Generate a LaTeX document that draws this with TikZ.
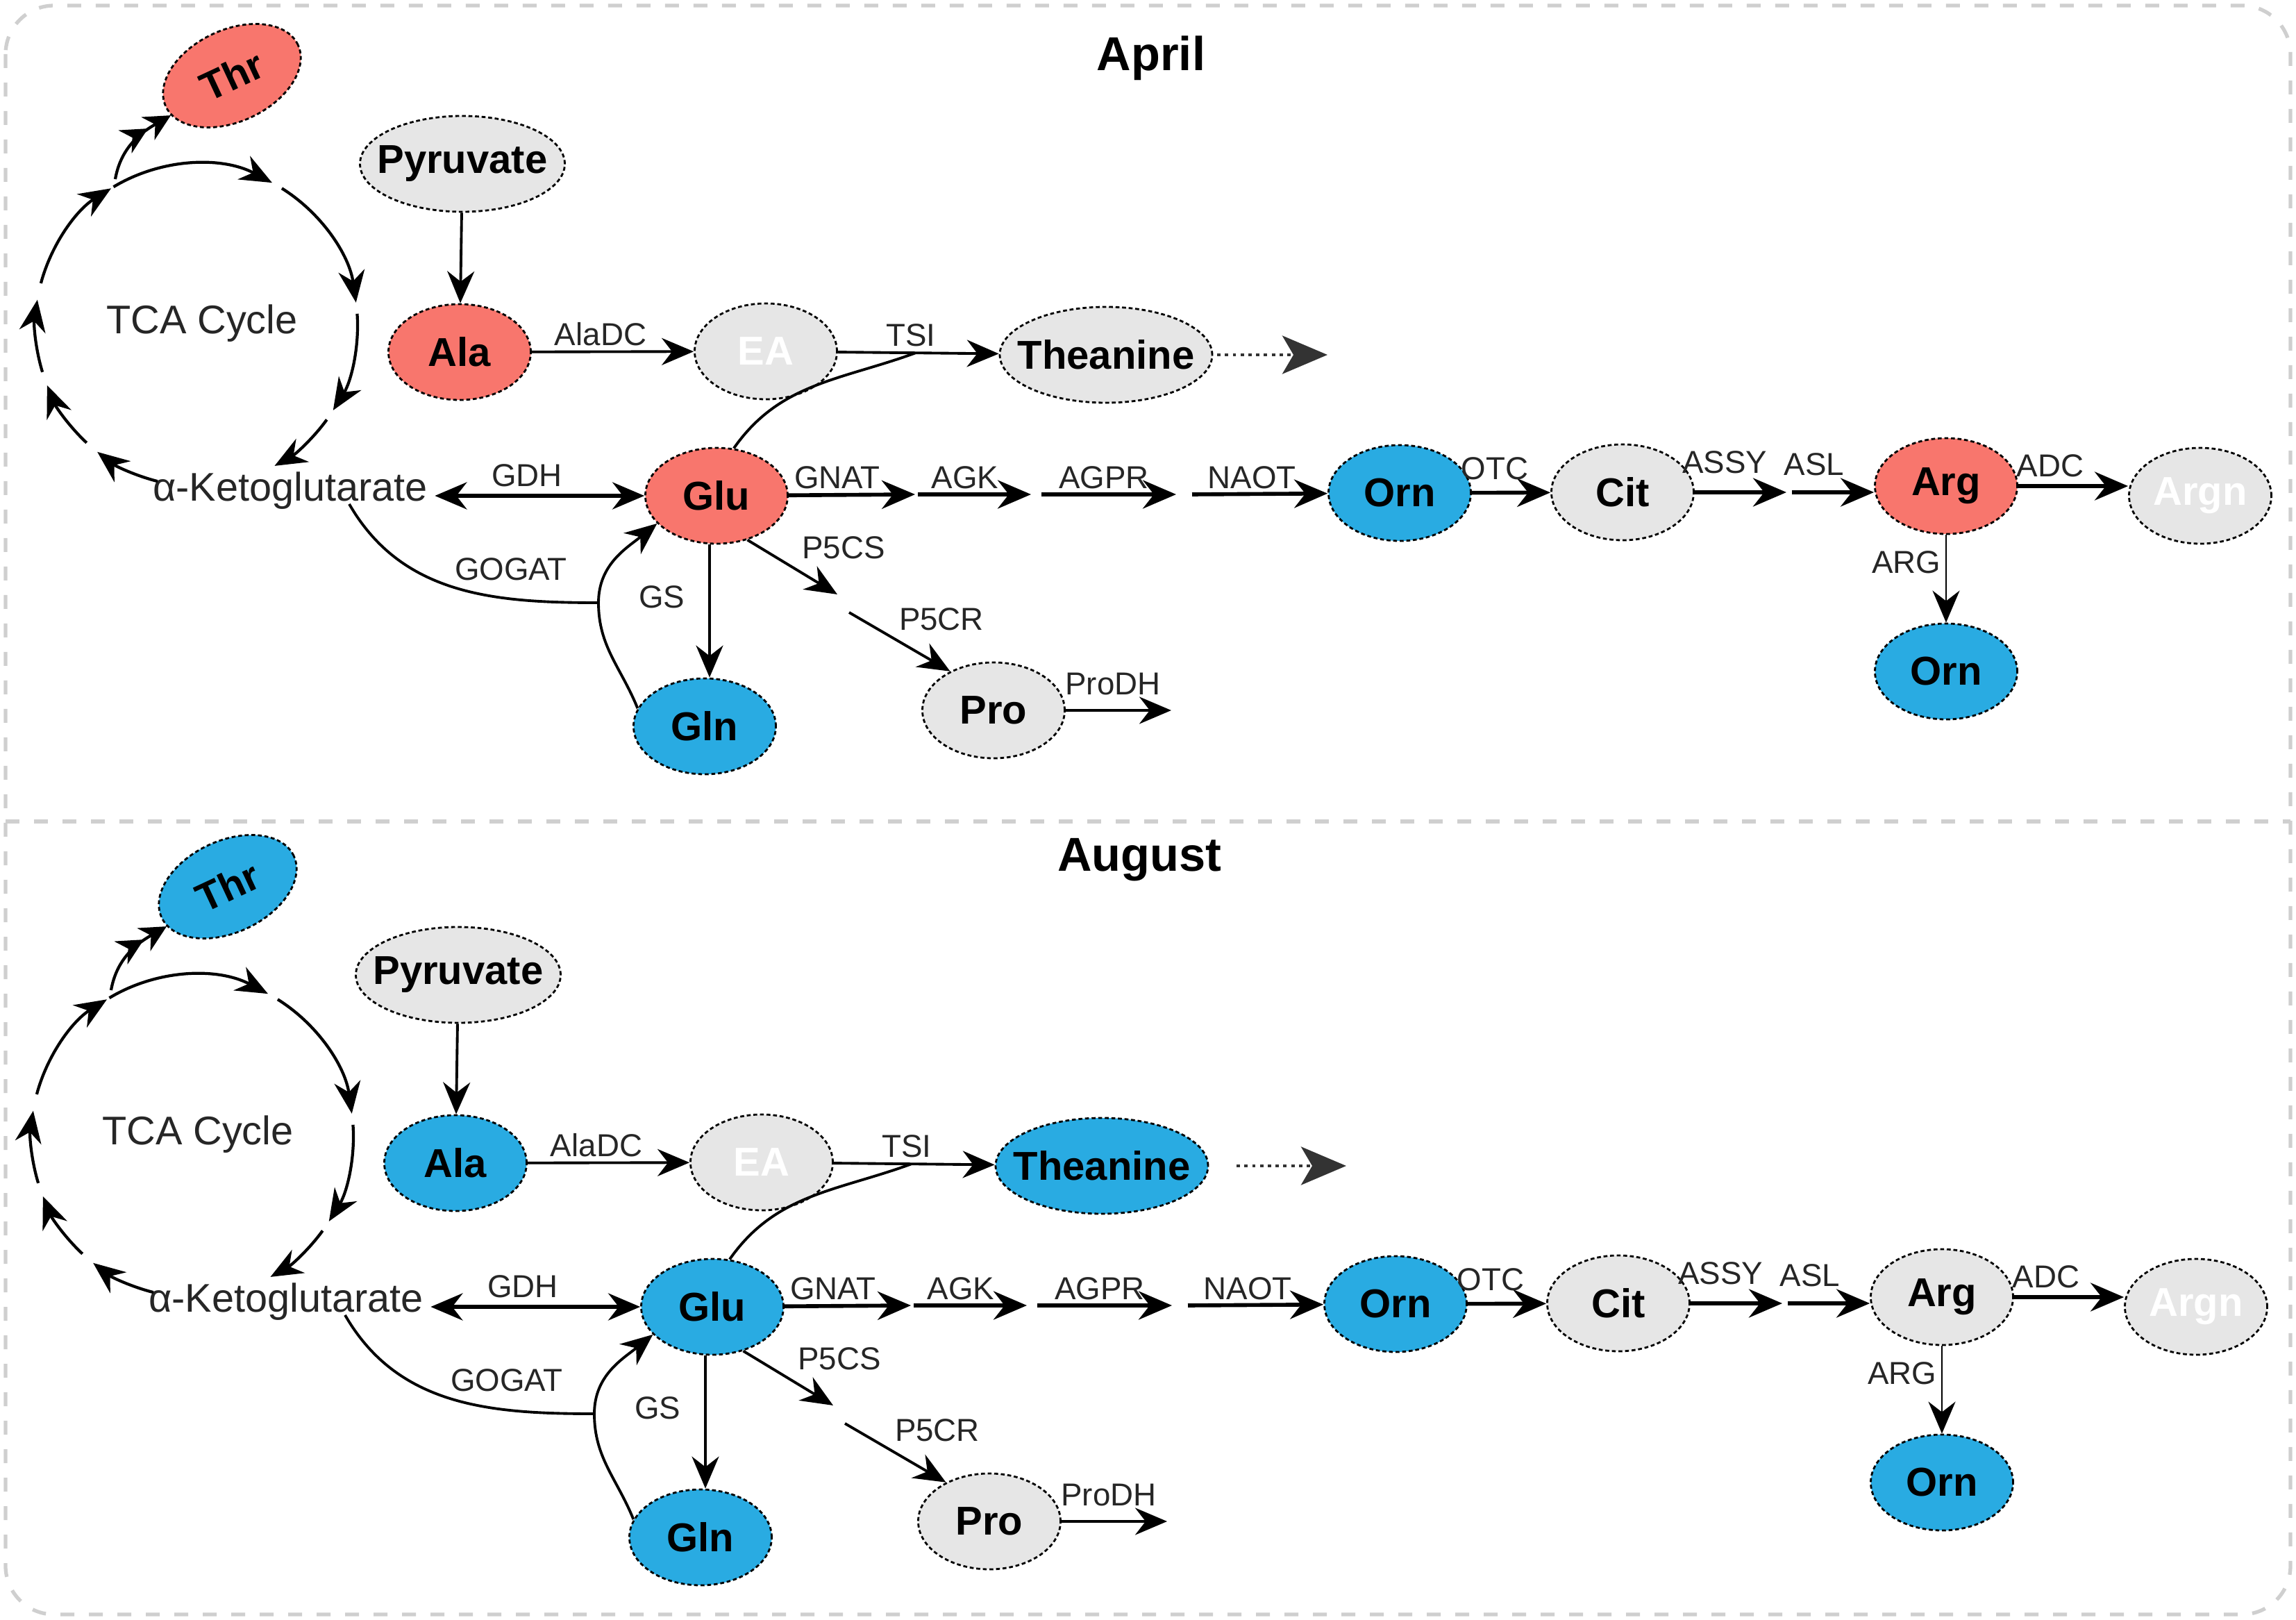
\documentclass[tikz,border=0pt]{standalone}
\usepackage{fontspec}
\setmainfont{Liberation Sans}
\usetikzlibrary{arrows.meta,shapes.geometric}
\definecolor{upred}{HTML}{F8766D}
\definecolor{downblue}{HTML}{29ABE2}
\definecolor{nogrey}{HTML}{E6E6E6}
\definecolor{framegrey}{HTML}{CFCFCF}

\begin{document}
\begin{tikzpicture}[
met/.style={ellipse,draw,line width=0.8pt,dash pattern=on 1.6pt off 1.1pt,minimum width=2.05cm,minimum height=1.38cm,inner sep=0pt,font=\fontsize{16.5}{18}\selectfont\bfseries},
upreg/.style={met,fill=upred},downreg/.style={met,fill=downblue},nochange/.style={met,fill=nogrey},
wide/.style={inner xsep=-2.1mm},
enz/.style={inner sep=1pt,font=\fontsize{13}{15}\selectfont,text=black!85},
plain/.style={inner sep=1mm,font=\fontsize{16.4}{18}\selectfont,text=black!85},
arr/.style={-{Stealth[length=4.6mm,width=3.9mm,inset=1.5mm]},line width=1.1pt},
thk/.style={-{Stealth[length=4.8mm,width=4.1mm,inset=1.6mm]},line width=1.6pt},
biarr/.style={{Stealth[length=4.6mm,width=3.9mm,inset=1.5mm]}-{Stealth[length=4.6mm,width=3.9mm,inset=1.5mm]},line width=1.5pt},
cyc/.style={-{Stealth[length=4.6mm,width=3.8mm,inset=1.5mm]},line width=1.2pt},
frame/.style={draw=framegrey,line width=1.5pt,dash pattern=on 2mm off 2.1mm}]

\useasboundingbox (0,0) rectangle (33.07,-23.33);
\draw[frame,rounded corners=7mm] (0.08,-0.08) rectangle (32.99,-23.25);
\draw[frame] (0.08,-11.83) -- (32.99,-11.83);

% one panel per month
\foreach \p/\ttl/\tx/\ty/\cthr/\cala/\cglu/\cthe/\carg/\ds/\de/\sx/\sy in {
  A/April/16.58/-0.84/upreg/upreg/upreg/nochange/upreg/17.53/19.12/0/0,
  B/August/16.47/-0.70/downreg/downreg/downreg/downreg/nochange/17.87/19.45/-0.06/-11.68}{
\begin{scope}[shift={(\sx,\sy)}]
\node[font=\fontsize{19.5}{22}\selectfont\bfseries] (\p-title) at (\tx,\ty) {\ttl};
% TCA cycle
\coordinate (\p-cyc) at (2.83,-4.68);
\node[plain] (\p-tca) at (2.91,-4.66) {TCA Cycle};
\node[plain] (\p-akg) at (4.18,-7.07) {α-Ketoglutarate};
\foreach \a/\b in {121/62,58/8,4/-32,-36/-61,-104/-128,-133/-158,-163/-189,-195/-238}
  \draw[cyc] (\p-cyc) ++(\a:2.32) arc[start angle=\a,end angle=\b,radius=2.32];
% metabolites
\node[\cthr,rotate=25,minimum width=2.1cm,minimum height=1.32cm] (\p-thr) at (3.34,-1.09) {Thr};
\node[nochange,wide,minimum width=2.95cm] (\p-pyr) at (6.66,-2.36) {Pyruvate};
\node[\cala] (\p-ala) at (6.62,-5.07) {Ala};
\node[nochange,text=white] (\p-ea) at (11.03,-5.06) {EA};
\node[\cthe,wide,minimum width=3.06cm] (\p-the) at (15.93,-5.11) {Theanine};
\node[\cglu] (\p-glu) at (10.32,-7.14) {Glu};
\node[downreg] (\p-gln) at (10.15,-10.46) {Gln};
\node[nochange] (\p-pro) at (14.31,-10.23) {Pro};
\node[downreg] (\p-orn) at (20.16,-7.10) {Orn};
\node[nochange] (\p-cit) at (23.37,-7.09) {Cit};
\node[\carg] (\p-arg) at (28.03,-7.00) {Arg};
\node[nochange,text=white] (\p-argn) at (31.69,-7.14) {Argn};
\node[downreg] (\p-orn2) at (28.03,-9.67) {Orn};
% free ends
\coordinate (\p-thrsrc) at (1.66,-2.58);
\coordinate (\p-tsi) at (13.18,-5.085);
\coordinate (\p-join) at (8.62,-8.68);
\coordinate (\p-c1) at (12.06,-8.56);
\coordinate (\p-c2) at (12.23,-8.82);
\coordinate (\p-prodh) at (16.87,-10.23);
\coordinate (\p-k1) at (13.18,-7.12);
\coordinate (\p-k2) at (13.22,-7.12);
\coordinate (\p-k3) at (14.85,-7.12);
\coordinate (\p-k4) at (15.00,-7.12);
\coordinate (\p-k5) at (16.94,-7.12);
\coordinate (\p-k6) at (17.17,-7.12);
\coordinate (\p-a1) at (25.73,-7.09);
\coordinate (\p-a2) at (25.81,-7.09);
\coordinate (\p-dot1) at (\ds,-5.11);
\coordinate (\p-dot2) at (\de,-5.11);
% connectors
\draw[line width=1.2pt,-{Stealth[length=3.8mm,width=3.8mm,inset=1.2mm]Stealth[length=3.8mm,width=3.8mm,inset=1.2mm]}] (\p-thrsrc) to[out=80,in=210] (\p-thr.188);
\draw[arr] (\p-pyr) -- (\p-ala);
\draw[arr] (\p-ala) -- (\p-ea);
\draw[arr] (\p-ea) -- (\p-the);
\draw[line width=1.1pt] (\p-glu.70) to[out=55,in=200] (\p-tsi);
\draw[line width=1.4pt,draw=black!80,dash pattern=on 1.4pt off 1.8pt,-{Stealth[length=6.5mm,width=5.5mm,inset=1.6mm]}] (\p-dot1) -- (\p-dot2);
\draw[biarr] (\p-akg.east |- \p-glu) -- (\p-glu);
\draw[line width=1.1pt] ([xshift=8.5mm,yshift=-0.4mm]\p-akg.base) to[out=-60,in=180] (\p-join);
\draw[arr] (\p-gln.165) to[out=112,in=-90] (\p-join) to[out=90,in=219] (\p-glu.205);
\draw[arr] ([xshift=-1mm]\p-glu.south) -- ([xshift=-1mm]\p-glu.south |- \p-gln.north);
\draw[arr] (\p-glu.-55) -- (\p-c1);
\draw[arr] (\p-c2) -- (\p-pro.138);
\draw[arr] (\p-pro) -- (\p-prodh);
\draw[thk] (\p-glu) -- (\p-k1);
\draw[thk] (\p-k2) -- (\p-k3);
\draw[thk] (\p-k4) -- (\p-k5);
\draw[thk] (\p-k6) -- (\p-orn);
\draw[thk] (\p-orn) -- (\p-cit);
\draw[thk] (\p-cit) -- (\p-a1);
\draw[thk] (\p-a2) -- (\p-arg.west |- \p-a2);
\draw[thk] (\p-arg.east) -- (\p-argn.west |- \p-arg.east);
\draw[arr,line width=0.8pt] (\p-arg) -- (\p-orn2);
% enzymes
\node[enz] (\p-aladc) at (8.65,-4.81) {AlaDC};
\node[enz] (\p-tsil) at (13.12,-4.83) {TSI};
\node[enz] (\p-gdh) at (7.59,-6.85) {GDH};
\node[enz] (\p-gogat) at (7.36,-8.20) {GOGAT};
\node[enz] (\p-gs) at (9.53,-8.60) {GS};
\node[enz] (\p-gnat) at (12.06,-6.88) {GNAT};
\node[enz] (\p-agk) at (13.90,-6.88) {AGK};
\node[enz] (\p-agpr) at (15.90,-6.88) {AGPR};
\node[enz] (\p-naot) at (18.03,-6.88) {NAOT};
\node[enz] (\p-otc) at (21.53,-6.75) {OTC};
\node[enz] (\p-assy) at (24.84,-6.66) {ASSY};
\node[enz] (\p-asl) at (26.13,-6.69) {ASL};
\node[enz] (\p-adc) at (29.53,-6.71) {ADC};
\node[enz] (\p-argl) at (27.46,-8.10) {ARG};
\node[enz] (\p-p5cs) at (12.15,-7.89) {P5CS};
\node[enz] (\p-p5cr) at (13.56,-8.92) {P5CR};
\node[enz] (\p-prodhl) at (16.03,-9.85) {ProDH};
\end{scope}}
\end{tikzpicture}
\end{document}
